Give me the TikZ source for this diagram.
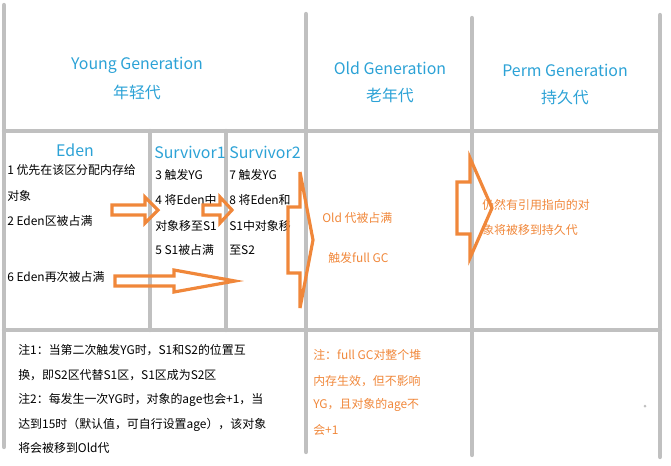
\documentclass[tikz,border=0pt]{standalone}
\usepackage{fontspec}
\setmainfont{Noto Sans CJK SC}
\definecolor{gridgray}{HTML}{C0C0C0}
\definecolor{titleblue}{HTML}{2CA2D6}
\definecolor{noteorange}{HTML}{F0873A}
\newcommand{\blockarrow}[6]{% x0, xh, xtip, y, shaft half, head half
  \draw[noteorange, line width=2.4pt, line join=miter]
    (#1,#4-#5) -- (#2,#4-#5) -- (#2,#4-#6) -- (#3,#4) -- (#2,#4+#6)
    -- (#2,#4+#5) -- (#1,#4+#5) -- cycle;}
\begin{document}
\begin{tikzpicture}[x=0.0265cm, y=-0.0265cm,
    grid/.style = {gridgray, line width=3.2pt, line cap=round},
    title/.style = {titleblue, font=\fontsize{12}{14}\selectfont},
    txt/.style = {anchor=west, inner sep=0pt, font=\fontsize{9}{11}\selectfont},
    note/.style = {txt, noteorange}]

      \useasboundingbox (0,0) rectangle (671,465);

      % grid
      \draw[grid] (4,5) -- (4,447);
      \draw[grid] (306,14) -- (306,452);
      \draw[grid] (472,18) -- (472,455);
      \draw[grid] (660,15) -- (660,457);
      \draw[grid] (4,131) -- (660,131);
      \draw[grid] (4,330) -- (660,330);
      \draw[grid] (150,131) -- (150,330);
      \draw[grid] (226,131) -- (226,330);

      % headers
      \node[title] (YG) at (137,65) {Young Generation};
      \node[title] (YGcn) at (137,92) {年轻代};
      \node[title] (OG) at (390,68) {Old Generation};
      \node[title] (OGcn) at (390,95) {老年代};
      \node[title] (PG) at (565,70) {Perm Generation};
      \node[title] (PGcn) at (565,97) {持久代};

      % young generation
      \node[title] (EDEN) at (75,150) {Eden};
      \node[title, anchor=west, inner sep=0pt] (S1) at (154,152) {Survivor1};
      \node[title, anchor=west, inner sep=0pt] (S2) at (229,152) {Survivor2};

      \node[txt] (E_1) at (7,170) {1 优先在该区分配内存给};
      \node[txt] (E_2) at (7,196) {对象};
      \node[txt] (E_3) at (7,221) {2 Eden区被占满};
      \node[txt] (E_4) at (7,277) {6 Eden再次被占满};

      \node[txt] (S1_1) at (155,175) {3 触发YG};
      \node[txt] (S1_2) at (155,200) {4 将Eden中};
      \node[txt] (S1_3) at (155,226) {对象移至S1};
      \node[txt] (S1_4) at (155,250) {5 S1被占满};

      \node[txt] (S2_1) at (229,175) {7 触发YG};
      \node[txt] (S2_2) at (229,200) {8 将Eden和};
      \node[txt] (S2_3) at (229,226) {S1中对象移};
      \node[txt] (S2_4) at (229,250) {至S2};

      \node[note] (OLD_1) at (322,218) {Old 代被占满};
      \node[note] (OLD_2) at (328,258) {触发full GC};

      \node[note] (PERM_1) at (482,205) {仍然有引用指向的对};
      \node[note] (PERM_2) at (482,230) {象将被移到持久代};

      % arrows
      \blockarrow{112}{145}{158}{210}{5}{13}
      \blockarrow{203}{220}{232}{210}{5}{13}
      \blockarrow{115}{174}{235}{281}{5}{11}
      \blockarrow{288}{300}{313}{240}{33}{68}
      \blockarrow{457}{470}{492}{208}{26}{50}

      % notes
      \node[txt] (N_1) at (18,350) {注1：当第二次触发YG时，S1和S2的位置互};
      \node[txt] (N_2) at (18,375) {换，即S2区代替S1区，S1区成为S2区};
      \node[txt] (N_3) at (18,400) {注2：每发生一次YG时，对象的age也会+1，当};
      \node[txt] (N_4) at (18,425) {达到15时（默认值，可自行设置age），该对象};
      \node[txt] (N_5) at (18,448) {将会被移到Old代};

      \node[note] (ON_1) at (313,355) {注：full GC对整个堆};
      \node[note] (ON_2) at (313,381) {内存生效，但不影响};
      \node[note] (ON_3) at (313,405) {YG，且对象的age不};
      \node[note] (ON_4) at (313,430) {会+1};

      \fill[gridgray] (645,406) circle (1.5);

      \end{tikzpicture}
\end{document}
